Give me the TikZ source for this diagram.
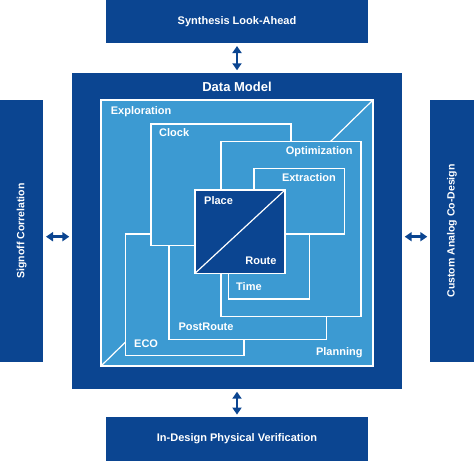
\documentclass[tikz,border=0pt]{standalone}
\usepackage{fontspec}
\setmainfont{Liberation Sans}
\usetikzlibrary{arrows.meta}
\definecolor{dk}{HTML}{0B4591}
\definecolor{lt}{HTML}{3C9AD2}
\tikzset{
  darkbox/.style={fill=dk, draw=none, inner sep=0pt, text=white, font=\fontsize{11}{13}\selectfont\bfseries},
  sidetext/.style={text=white, font=\fontsize{10.5}{12}\selectfont\bfseries, rotate=90},
  layer/.style={fill=lt, draw=white, line width=1.2pt},
  placebox/.style={fill=dk, draw=white, line width=1.2pt},
  wline/.style={draw=white, line width=1.2pt},
  lbl/.style={text=white, inner sep=0pt, font=\fontsize{11}{13}\selectfont\bfseries},
  dblarrow/.style={draw=dk, line width=2.6pt, {Triangle[length=7pt,width=9pt]}-{Triangle[length=7pt,width=9pt]}, shorten <=2.5pt, shorten >=2.5pt}
}
\begin{document}
\begin{tikzpicture}[x=1pt,y=-1pt]
\useasboundingbox (0,0) rectangle (474,461);
% side boxes
\node[darkbox, minimum width=262.6pt, minimum height=43.3pt] (synth) at (237,21.65) {Synthesis Look-Ahead};
\node[darkbox, minimum width=262.6pt, minimum height=43.7pt] (ver) at (237,439.15) {In-Design Physical Verification};
\node[darkbox, minimum width=43.3pt, minimum height=261.7pt] (sign) at (21.65,230.85) {};
\node[sidetext] (signt) at (sign.center) {Signoff Correlation};
\node[darkbox, minimum width=44pt, minimum height=261.7pt] (cust) at (452,230.85) {};
\node[sidetext] (custt) at (cust.center) {Custom Analog Co-Design};
% data model
\node[darkbox, minimum width=330pt, minimum height=316pt] (dm) at (237,231) {};
\node[lbl, font=\fontsize{13}{15}\selectfont\bfseries] (dmt) at (237,87) {Data Model};
% arrows
\draw[dblarrow] (synth) -- (dm);
\draw[dblarrow] (ver) -- (dm);
\draw[dblarrow] (sign.east |- 0,236.7) -- (dm.west |- 0,236.7);
\draw[dblarrow] (cust.west |- 0,236.7) -- (dm.east |- 0,236.7);
% planning square
\draw[layer] (101,100) coordinate (plnw) rectangle (373,366) coordinate (plse);
\coordinate (plsw) at (101,366);
\coordinate (plne) at (373,100);
\draw[wline] (plsw) -- (plne);
% layers
\draw[layer] (125.7,234) rectangle (244,355.7);
\draw[layer] (169,200) rectangle (326.7,339.3);
\draw[layer] (151,124) rectangle (291,245.7);
\draw[layer] (221,141.7) rectangle (361,316.7);
\draw[layer] (228.3,200) rectangle (309.3,299);
\draw[layer] (254,168.3) rectangle (344.3,234);
\draw[placebox] (195,190) coordinate (pnw) rectangle (285,273.3) coordinate (pse);
\coordinate (psw) at (195,273.3);
\coordinate (pne) at (285,190);
\draw[wline] (psw) -- (pne);
% labels
\node[lbl, anchor=mid west] (lexp) at (110.7,112.3) {Exploration};
\node[lbl, anchor=mid west] (lclk) at (159,134) {Clock};
\node[lbl, anchor=mid east] (lopt) at (352.7,152.3) {Optimization};
\node[lbl, anchor=mid east] (lext) at (336,179) {Extraction};
\node[lbl, anchor=mid west] (lpla) at (204,201.7) {Place};
\node[lbl, anchor=mid east] (lrou) at (276.7,262.3) {Route};
\node[lbl, anchor=mid west] (ltim) at (236,288.3) {Time};
\node[lbl, anchor=mid west] (lpos) at (178.3,328) {PostRoute};
\node[lbl, anchor=mid west] (leco) at (134,345) {ECO};
\node[lbl, anchor=mid east] (lpln) at (362.7,353.3) {Planning};
\end{tikzpicture}
\end{document}
